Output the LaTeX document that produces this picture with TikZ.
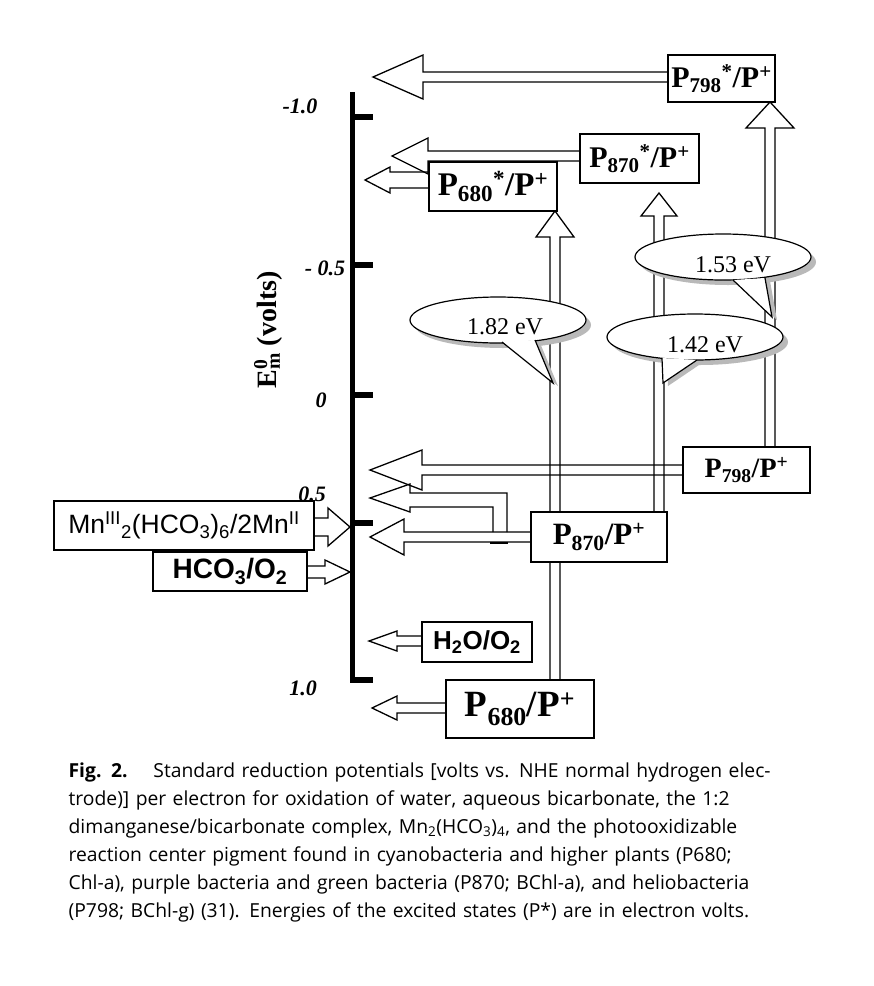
\documentclass[tikz,border=0pt]{standalone}
\usepackage{fontspec}
\usetikzlibrary{shapes.geometric}
\setmainfont{Liberation Serif}
\newfontfamily\sansf{Liberation Sans}
\newfontfamily\capf{Open Sans}
\begin{document}
\begin{tikzpicture}[x=1pt,y=-1pt,line width=1.3pt,
  box/.style={draw,fill=white,line width=1.5pt,inner sep=0pt},
  plab/.style={font=\fontsize{#1}{#1}\selectfont\bfseries},
  tick/.style={font=\fontsize{22}{22}\selectfont\bfseries\itshape},
  bub/.style={draw,fill=white,line width=1.2pt},
  shad/.style={fill=gray!55,draw=none}]
\useasboundingbox (0,0) rectangle (874,986);
% axis
\draw[line width=5pt] (352,92) -- (352,682);
\foreach \yy in {117,265,395,523,680} \draw[line width=6pt] (350,\yy) -- (373,\yy);
\node[tick] (t1) at (300,106) {-1.0};
\node[tick] (t2) at (325,268) {- 0.5};
\node[tick] (t3) at (321,400) {0};
\node[tick] (t4) at (312,494) {0.5};
\node[tick] (t5) at (303,688) {1.0};
\node[rotate=90,font=\fontsize{28}{28}\selectfont\bfseries] (yl) at (268,330) {E\rlap{\textsuperscript{0}}\textsubscript{m} (volts)};
% vertical excitation arrows
\newcommand\uparr[5]{% x, ybottom, ytip, ybase, halfhead
 \draw (#1-5,#2) -- (#1-5,#4) -- (#1-#5,#4) -- (#1,#3) -- (#1+#5,#4) -- (#1+5,#4) -- (#1+5,#2);}
\uparr{555}{680}{211}{237}{19}
\uparr{659}{512}{193}{216}{18}
\uparr{770}{447}{102}{128}{24}
% horizontal arrows
\newcommand\larr[6]{% endx, y, tip, base, halfhead, halfshaft
 \draw (#1,#2-#6) -- (#4,#2-#6) -- (#4,#2-#5) -- (#3,#2) -- (#4,#2+#5) -- (#4,#2+#6) -- (#1,#2+#6);}
\larr{668}{77}{373}{423}{22}{5}
\larr{580}{156}{392}{428}{18}{5}
\larr{429}{180}{365}{390}{13}{8}
\larr{683}{470}{370}{422}{20}{5}
\larr{531}{537}{370}{404}{18}{5}
\larr{446}{708}{372}{397}{12}{5}
\larr{422}{641}{369}{397}{10}{5}
% branch arrow
\draw (507,532) -- (507,493) -- (410,493) -- (410,484) -- (370,498) -- (410,512) -- (410,507) -- (493,507) -- (493,532);
\draw[line width=2.5pt] (490,543) -- (508,543);
% right-pointing arrows to axis
\draw (314,518) -- (328,518) -- (328,508) -- (350,527) -- (328,546) -- (328,536) -- (314,536);
\draw (307,566) -- (325,566) -- (325,560) -- (350,572) -- (325,584) -- (325,578) -- (307,578);
% boxes
\node[box,minimum width=107,minimum height=47,plab=30] (b798s) at (721.5,78.5) {P\textsubscript{798}\textsuperscript{*}/P\textsuperscript{+}};
\node[box,minimum width=119,minimum height=49,plab=30] (b870s) at (639.5,158.5) {P\textsubscript{870}\textsuperscript{*}/P\textsuperscript{+}};
\node[box,minimum width=128,minimum height=49,plab=33] (b680s) at (493,186.5) {P\textsubscript{680}\textsuperscript{*}/P\textsuperscript{+}};
\node[box,minimum width=127,minimum height=46,plab=28] (b798) at (746.5,470) {P\textsubscript{798}/P\textsuperscript{+}};
\node[box,minimum width=136,minimum height=50,plab=31] (b870) at (599,537) {P\textsubscript{870}/P\textsuperscript{+}};
\node[box,minimum width=148,minimum height=58,plab=37] (b680) at (520,709) {P\textsubscript{680}/P\textsuperscript{+}};
\node[box,minimum width=260,minimum height=49,font=\sansf\fontsize{26.5}{26.5}\selectfont] (mn) at (184,525.5) {Mn\textsuperscript{III}\textsubscript{2}(HCO\textsubscript{3})\textsubscript{6}/2Mn\textsuperscript{II}};
\node[box,minimum width=154,minimum height=39,font=\sansf\fontsize{28}{28}\selectfont\bfseries] (hco) at (230,571.5) {HCO\textsubscript{3}/O\textsubscript{2}};
\node[box,minimum width=110,minimum height=40,font=\sansf\fontsize{26}{26}\selectfont\bfseries] (h2o) at (477,642) {H\textsubscript{2}O/O\textsubscript{2}};
% callouts
\newcommand\callout[9]{%
 \fill[shad] (#2+5,#3+5) ellipse [x radius=88,y radius=23];
 \fill[shad] (#4+5,#5+3) -- (#8+5,#9+3) -- (#6+5,#7+3) -- cycle;
 \node[bub,ellipse,minimum width=176,minimum height=46,inner sep=0pt] (#1) at (#2,#3) {};
 \draw[fill=white,line width=1.2pt] (#4,#5) -- (#8,#9) -- (#6,#7);}
\callout{c182}{498}{320}{502}{342}{535}{340}{553}{383}
\node[font=\fontsize{24}{24}\selectfont] (l182) at (505,327) {1.82 eV};
\callout{c153}{723}{257}{733}{280}{765}{278}{772}{317}
\node[font=\fontsize{24}{24}\selectfont] (l153) at (733,265) {1.53 eV};
\callout{c142}{695}{337}{662}{358}{697}{360}{663}{383}
\node[font=\fontsize{24}{24}\selectfont] (l142) at (705,345) {1.42 eV};
% caption
\node[anchor=north west,inner sep=0pt,text width=742,font=\capf\fontsize{19.3}{28}\selectfont] (cap) at (68,762) {\parfillskip=0pt
{\bfseries Fig. 2.}\quad\ Standard reduction potentials [volts vs. NHE normal hydrogen elec-\linebreak
trode)] per electron for oxidation of water, aqueous bicarbonate, the 1:2\linebreak
dimanganese/bicarbonate complex, Mn\textsubscript{2}(HCO\textsubscript{3})\textsubscript{4}, and the photooxidizable\linebreak
reaction center pigment found in cyanobacteria and higher plants (P680;\linebreak
Chl-a), purple bacteria and green bacteria (P870; BChl-a), and heliobacteria\linebreak
(P798; BChl-g) (31). Energies of the excited states (P*) are in electron volts.};
\end{tikzpicture}
\end{document}
